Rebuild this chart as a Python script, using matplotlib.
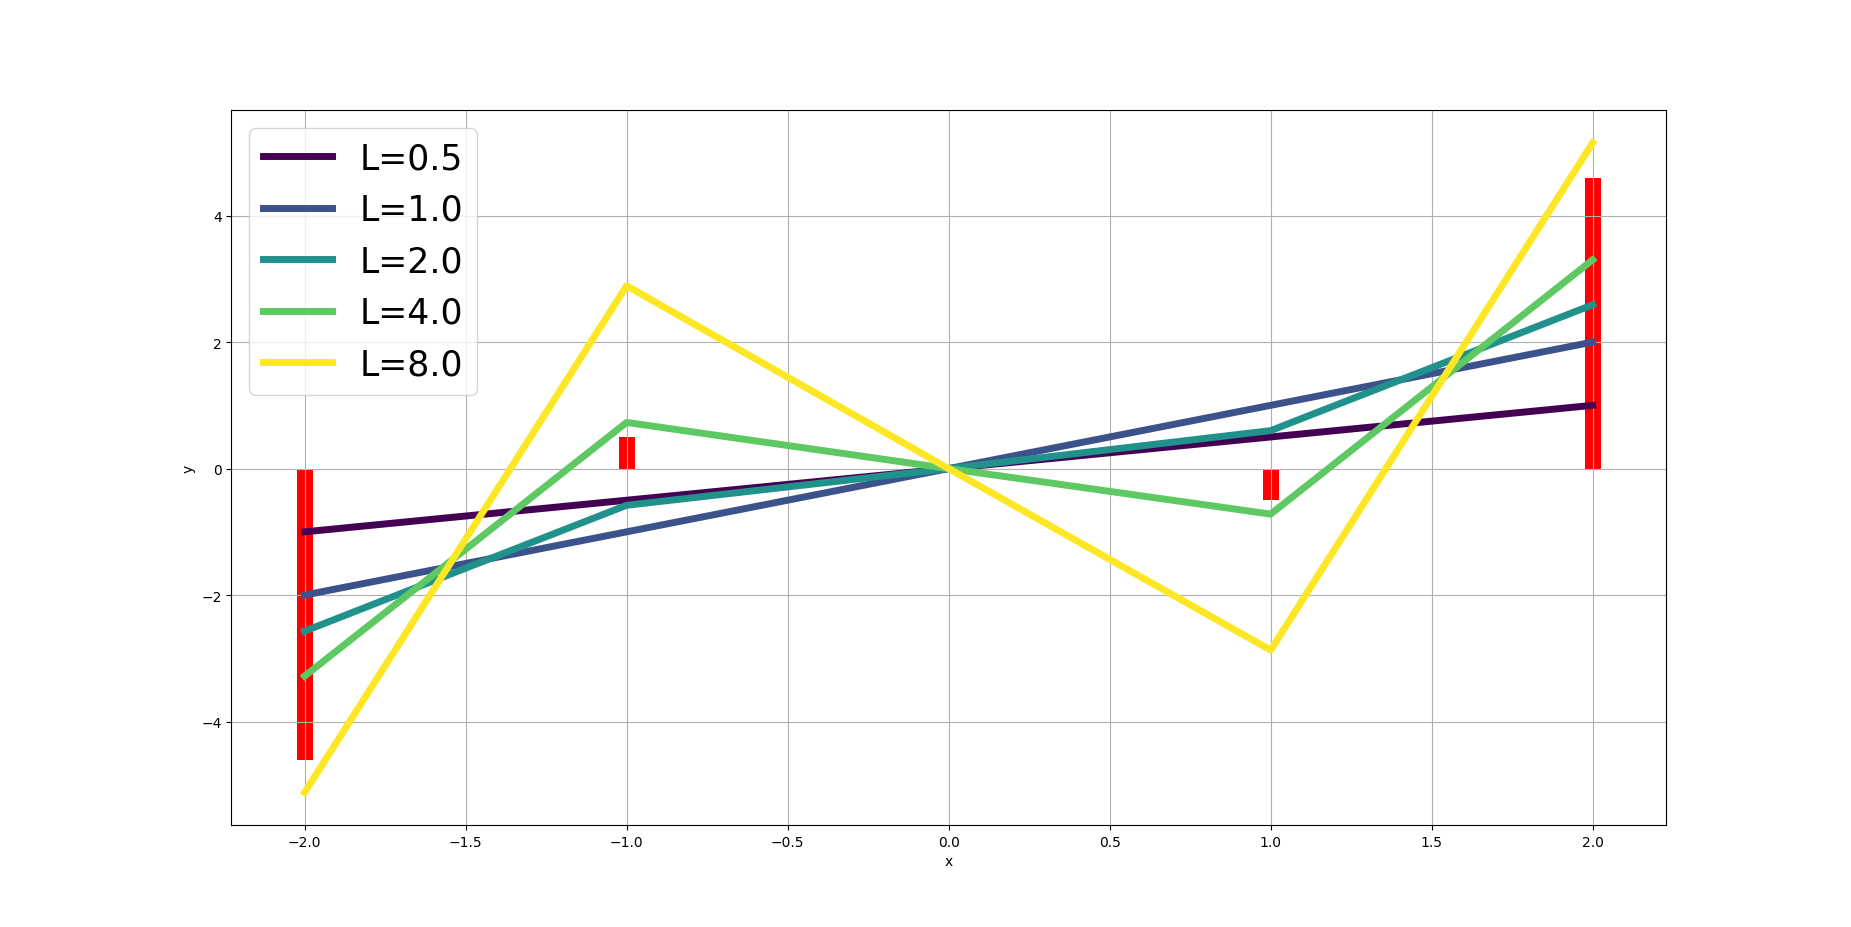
import matplotlib
matplotlib.use("Agg")
import matplotlib.pyplot as plt
import numpy as np

x = [-2.0, -1.0, 0.0, 1.0, 2.0]
Ls = [0.5, 1.0, 2.0, 4.0, 8.0]
ys = {
    0.5: [-1.0, -0.5, 0.0, 0.5, 1.0],
    1.0: [-2.0, -1.0, 0.0, 1.0, 2.0],
    2.0: [-2.57, -0.58, 0.0, 0.6, 2.59],
    4.0: [-3.28, 0.73, 0.0, -0.72, 3.3],
    8.0: [-5.12, 2.89, 0.0, -2.87, 5.15],
}
bar_x = [-2.0, -1.0, 1.0, 2.0]
bar_h = [-4.6, 0.5, -0.5, 4.6]

fig, ax = plt.subplots(figsize=(18.51, 9.28), dpi=100)
ax.bar(bar_x, bar_h, width=0.05, color="red")
colors = plt.cm.viridis(np.linspace(0, 1, len(Ls)))
for L, c in zip(Ls, colors):
    ax.plot(x, ys[L], color=c, lw=5, label="L=%.1f" % L)
ax.grid(True)
ax.set_xlabel("x")
ax.set_ylabel("y")
ax.legend(loc="upper left", fontsize=25)
fig.savefig("out.png")
